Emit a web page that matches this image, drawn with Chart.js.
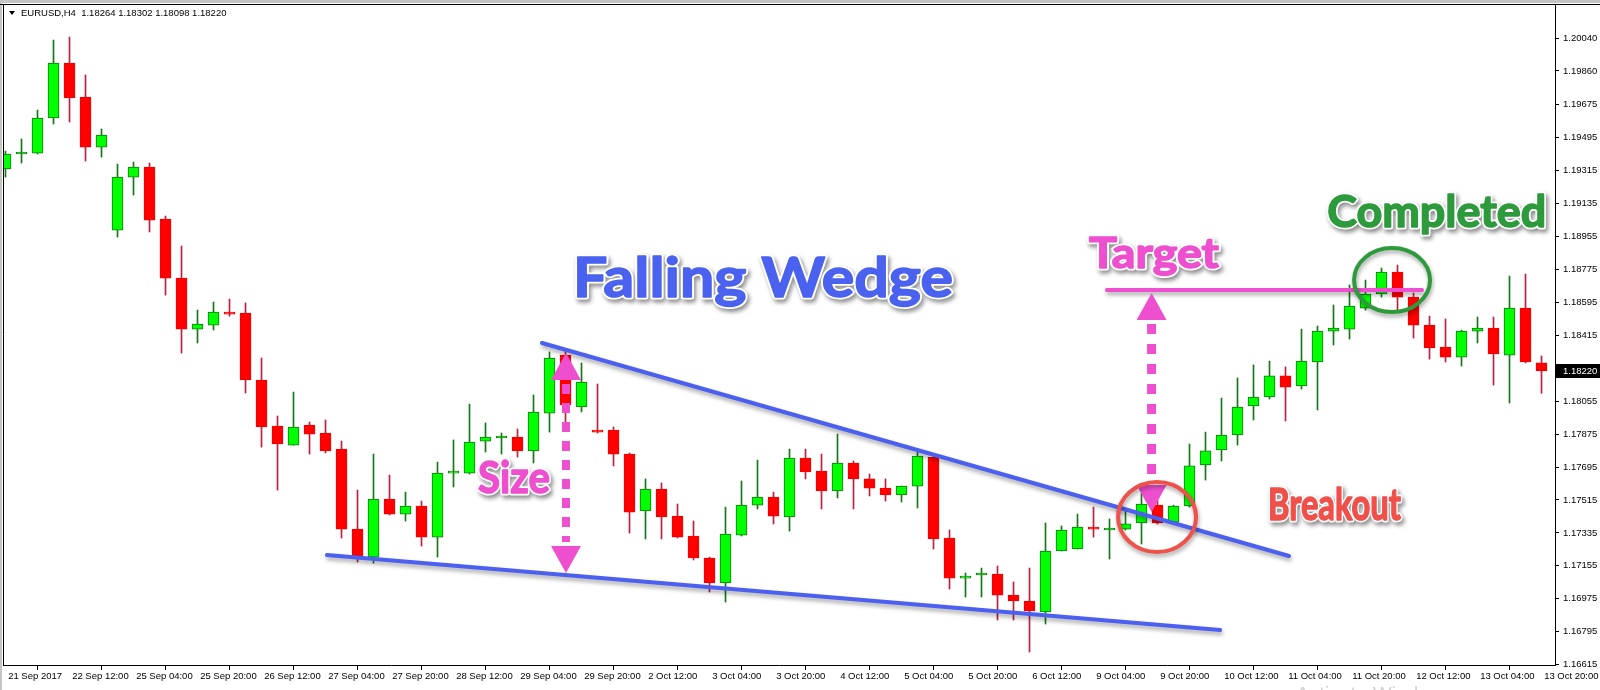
<!DOCTYPE html>
<html>
<head>
<meta charset="utf-8">
<title>EURUSD H4 - Falling Wedge</title>
<script src="https://cdn.jsdelivr.net/npm/chart.js@4.4.1/dist/chart.umd.min.js"></script>
<style>
  html, body { margin: 0; padding: 0; background: #fff; }
  #wrap { width: 1600px; height: 690px; }
</style>
</head>
<body>
<div id="wrap"><canvas id="chart" width="1600" height="690"></canvas></div>
<script>
const symbolName = 'EURUSD,H4';

// H4 candles, 21 Sep 2017 20:00 -> 13 Oct 2017 20:00
const opens = [
  1.19324, 1.19406, 1.19411, 1.19603, 1.19903, 1.19717, 1.19444, 1.18990, 1.19280, 1.19335,
  1.19051, 1.18728, 1.18449, 1.18471, 1.18542, 1.18537, 1.18171, 1.17919, 1.17815, 1.17925,
  1.17881, 1.17793, 1.17356, 1.17203, 1.17520, 1.17438, 1.17482, 1.17312, 1.17662, 1.17662,
  1.17837, 1.17854, 1.17859, 1.17783, 1.17990, 1.18307, 1.18023, 1.17897, 1.17897, 1.17766,
  1.17455, 1.17575, 1.17427, 1.17318, 1.17198, 1.17061, 1.17323, 1.17487, 1.17531, 1.17422,
  1.17744, 1.17673, 1.17564, 1.17717, 1.17630, 1.17580, 1.17542, 1.17591, 1.17750, 1.17307,
  1.17088, 1.17105, 1.17110, 1.16995, 1.16963, 1.16903, 1.17236, 1.17247, 1.17367, 1.17351,
  1.17356, 1.17389, 1.17487, 1.17394, 1.17482, 1.17706, 1.17788, 1.17870, 1.18029, 1.18078,
  1.18193, 1.18138, 1.18269, 1.18438, 1.18449, 1.18564, 1.18641, 1.18761, 1.18624, 1.18471,
  1.18351, 1.18296, 1.18438, 1.18455, 1.18307, 1.18564, 1.18264
];
const highs = [
  1.19422, 1.19488, 1.19646, 1.20029, 1.20045, 1.19838, 1.19543, 1.19351, 1.19362, 1.19357,
  1.19067, 1.18903, 1.18553, 1.18597, 1.18613, 1.18592, 1.18291, 1.17974, 1.18105, 1.17941,
  1.17952, 1.17837, 1.17569, 1.17766, 1.17651, 1.17558, 1.17509, 1.17722, 1.17843, 1.18039,
  1.17936, 1.17881, 1.17903, 1.18089, 1.18324, 1.18335, 1.18264, 1.18149, 1.17914, 1.17772,
  1.17630, 1.17608, 1.17493, 1.17400, 1.17203, 1.17476, 1.17619, 1.17733, 1.17558, 1.17793,
  1.17793, 1.17766, 1.17875, 1.17728, 1.17657, 1.17630, 1.17591, 1.17777, 1.17761, 1.17351,
  1.17116, 1.17143, 1.17154, 1.17067, 1.17143, 1.17389, 1.17373, 1.17438, 1.17476, 1.17411,
  1.17466, 1.17553, 1.17515, 1.17487, 1.17821, 1.17886, 1.18072, 1.18182, 1.18253, 1.18274,
  1.18242, 1.18449, 1.18466, 1.18581, 1.18690, 1.18717, 1.18783, 1.18799, 1.18646, 1.18520,
  1.18504, 1.18444, 1.18515, 1.18515, 1.18739, 1.18750, 1.18302
];
const lows = [
  1.19280, 1.19357, 1.19406, 1.19570, 1.19581, 1.19368, 1.19389, 1.18952, 1.19182, 1.18980,
  1.18635, 1.18318, 1.18373, 1.18444, 1.18520, 1.18100, 1.17804, 1.17569, 1.17815, 1.17766,
  1.17772, 1.17307, 1.17176, 1.17170, 1.17433, 1.17400, 1.17263, 1.17203, 1.17586, 1.17657,
  1.17777, 1.17766, 1.17750, 1.17717, 1.17886, 1.17914, 1.17996, 1.17881, 1.17701, 1.17334,
  1.17302, 1.17302, 1.17307, 1.17187, 1.17012, 1.16957, 1.17318, 1.17466, 1.17384, 1.17345,
  1.17630, 1.17466, 1.17526, 1.17466, 1.17537, 1.17509, 1.17504, 1.17471, 1.17247, 1.17028,
  1.16985, 1.16985, 1.16859, 1.16859, 1.16684, 1.16837, 1.17236, 1.17247, 1.17312, 1.17192,
  1.17351, 1.17274, 1.17384, 1.17389, 1.17476, 1.17624, 1.17728, 1.17815, 1.17952, 1.18067,
  1.17947, 1.18121, 1.18007, 1.18362, 1.18395, 1.18553, 1.18624, 1.18553, 1.18400, 1.18285,
  1.18269, 1.18247, 1.18373, 1.18143, 1.18045, 1.18264, 1.18098
];
const closes = [
  1.19406, 1.19417, 1.19603, 1.19903, 1.19712, 1.19444, 1.19510, 1.19280, 1.19335, 1.19045,
  1.18728, 1.18449, 1.18477, 1.18542, 1.18531, 1.18171, 1.17914, 1.17821, 1.17914, 1.17875,
  1.17783, 1.17356, 1.17203, 1.17520, 1.17438, 1.17482, 1.17312, 1.17662, 1.17668, 1.17832,
  1.17859, 1.17859, 1.17783, 1.17996, 1.18291, 1.18034, 1.18160, 1.17886, 1.17766, 1.17449,
  1.17575, 1.17422, 1.17312, 1.17198, 1.17061, 1.17329, 1.17487, 1.17531, 1.17427, 1.17744,
  1.17668, 1.17564, 1.17717, 1.17630, 1.17580, 1.17542, 1.17591, 1.17755, 1.17302, 1.17088,
  1.17099, 1.17110, 1.16995, 1.16963, 1.16908, 1.17236, 1.17351, 1.17367, 1.17356, 1.17356,
  1.17384, 1.17493, 1.17389, 1.17482, 1.17701, 1.17783, 1.17870, 1.18023, 1.18078, 1.18193,
  1.18132, 1.18274, 1.18438, 1.18455, 1.18575, 1.18641, 1.18761, 1.18624, 1.18471, 1.18346,
  1.18296, 1.18438, 1.18455, 1.18313, 1.18564, 1.18269, 1.18220
];

// one time label every 4 bars
const timeLabelStep = 4;
const timeLabels = [
  '21 Sep 2017', '22 Sep 12:00', '25 Sep 04:00', '25 Sep 20:00', '26 Sep 12:00',
  '27 Sep 04:00', '27 Sep 20:00', '28 Sep 12:00', '29 Sep 04:00', '29 Sep 20:00',
  '2 Oct 12:00', '3 Oct 04:00', '3 Oct 20:00', '4 Oct 12:00', '5 Oct 04:00',
  '5 Oct 20:00', '6 Oct 12:00', '9 Oct 04:00', '9 Oct 20:00', '10 Oct 12:00',
  '11 Oct 04:00', '11 Oct 20:00', '12 Oct 12:00', '13 Oct 04:00', '13 Oct 20:00'
];

const priceTicks = [
  1.20040, 1.19860, 1.19675, 1.19495, 1.19315, 1.19135, 1.18955, 1.18775, 1.18595, 1.18415,
  1.18055, 1.17875, 1.17695, 1.17515, 1.17335, 1.17155, 1.16975, 1.16795, 1.16615
];
const priceMin = 1.16613;
const priceMax = 1.20226;

// annotations, in [bar index, price]
const wedgeUpper = [[33.53, 1.18373], [80.22, 1.17209]];
const wedgeLower = [[20.09, 1.17214], [75.91, 1.16804]];
const targetLine = [[68.84, 1.18663], [88.53, 1.18663]];
const sizeArrow = [35.03, 1.18318, 1.17116];     // index, top tip, bottom tip
const targetArrow = [71.63, 1.18646, 1.17449];
const breakoutCircle = [71.97, 1.17422];
const completedCircle = [86.66, 1.18717];
const noteTexts = ['Falling Wedge', 'Size', 'Target', 'Breakout', 'Completed'];
const noteAnchors = [[47.34, 1.18624], [31.78, 1.17553], [71.78, 1.18783], [83.06, 1.17405], [89.45, 1.19007]];

// styles
const UP_BODY = '#00ff00', UP_EDGE = '#0a7d0a', UP_WICK = '#147814';
const DN_BODY = '#ff0000', DN_EDGE = '#f00000', DN_WICK = '#c01e3c';
const BLUE = '#4b5ff0', PINK = '#ee4fcf', RED = '#ee524b', GREEN = '#2d9a3b';
const noteStyles = [
  { color: '#4a62ef', cap: 40, width: 380 },
  { color: PINK, cap: 32, width: 72 },
  { color: PINK, cap: 30, width: 130 },
  { color: '#f0504a', cap: 31, width: 133 },
  { color: GREEN, cap: 32, width: 219 }
];
const axisFont = { family: 'Liberation Sans, Arial, sans-serif', size: 9.5 };

const barIdx = opens.map((_, i) => i);
const isUp = barIdx.map((i) => closes[i] >= opens[i]);

const wedgeNotes = {
  id: 'wedgeNotes',
  beforeDraw(chart) {
    const c = chart.ctx;
    c.save();
    c.fillStyle = '#fff';
    c.fillRect(0, 0, chart.width, chart.height);
    c.fillStyle = '#c4c4c4';
    c.fillRect(0, 0, chart.width, 3);
    c.fillRect(0, 0, 2, chart.height);
    c.restore();
  },
  afterDatasetsDraw(chart) {
    const c = chart.ctx;
    const xs = chart.scales.x, ys = chart.scales.y;
    const px = (v) => xs.getPixelForValue(v);
    const py = (v) => ys.getPixelForValue(v);

    function shadowed(fn) {
      c.save();
      c.shadowColor = 'rgba(0,0,0,0.35)';
      c.shadowBlur = 4;
      c.shadowOffsetX = 1;
      c.shadowOffsetY = 3;
      fn();
      c.restore();
    }

    function line(pts, color, w) {
      shadowed(() => {
        c.strokeStyle = color;
        c.lineWidth = w;
        c.lineCap = 'round';
        c.beginPath();
        c.moveTo(px(pts[0][0]), py(pts[0][1]));
        c.lineTo(px(pts[1][0]), py(pts[1][1]));
        c.stroke();
      });
    }

    function ring(pt, rx, ry, color) {
      shadowed(() => {
        c.strokeStyle = color;
        c.lineWidth = 4;
        c.beginPath();
        c.ellipse(px(pt[0]), py(pt[1]), rx, ry, 0, 0, Math.PI * 2);
        c.stroke();
      });
    }

    function dottedArrow(a, color, dotW, dash) {
      const x = px(a[0]), yt = py(a[1]), yb = py(a[2]);
      const head = 27, half = 15;
      c.save();
      c.fillStyle = color;
      c.beginPath();
      c.moveTo(x, yt); c.lineTo(x - half, yt + head); c.lineTo(x + half, yt + head);
      c.closePath(); c.fill();
      c.beginPath();
      c.moveTo(x, yb); c.lineTo(x - half, yb - head); c.lineTo(x + half, yb - head);
      c.closePath(); c.fill();
      c.strokeStyle = color;
      c.lineWidth = dotW;
      c.setLineDash(dash);
      c.beginPath();
      c.moveTo(x, yt + head + 4);
      c.lineTo(x, yb - head - 4);
      c.stroke();
      c.restore();
    }

    function note(text, anchor, st) {
      const size = st.cap / 0.72;
      c.save();
      c.font = `bold ${size}px Lato, "Open Sans", sans-serif`;
      const w = c.measureText(text).width;
      c.translate(px(anchor[0]), py(anchor[1]));
      c.scale(st.width / w, 1);
      c.textAlign = 'center';
      c.textBaseline = 'alphabetic';
      c.lineJoin = 'round';
      c.shadowColor = 'rgba(0,0,0,0.45)';
      c.shadowBlur = 4;
      c.shadowOffsetX = 2;
      c.shadowOffsetY = 3;
      c.strokeStyle = '#fff';
      c.lineWidth = 5;
      c.strokeText(text, 0, 0);
      c.shadowColor = 'transparent';
      c.fillStyle = st.color;
      c.fillText(text, 0, 0);
      c.strokeStyle = st.color;
      c.lineWidth = 1.5;
      c.strokeText(text, 0, 0);
      c.restore();
    }

    line(wedgeUpper, BLUE, 4);
    line(wedgeLower, BLUE, 4);
    line(targetLine, PINK, 4);
    dottedArrow(sizeArrow, PINK, 8, [10, 9]);
    dottedArrow(targetArrow, PINK, 9, [10, 10]);
    ring(breakoutCircle, 39, 35, RED);
    ring(completedCircle, 38, 32, GREEN);
    noteTexts.forEach((t, k) => note(t, noteAnchors[k], noteStyles[k]));
  },
  afterDraw(chart) {
    const c = chart.ctx;
    const a = chart.chartArea;
    const last = closes.length - 1;
    c.save();
    // frame
    c.strokeStyle = '#000';
    c.lineWidth = 1;
    c.beginPath();
    c.moveTo(0, a.top + 0.5); c.lineTo(chart.width, a.top + 0.5);
    c.moveTo(a.left + 0.5, a.top); c.lineTo(a.left + 0.5, a.bottom);
    c.stroke();

    // symbol line
    c.fillStyle = '#000';
    c.beginPath();
    c.moveTo(9, 11); c.lineTo(15, 11); c.lineTo(12, 15);
    c.closePath(); c.fill();
    c.font = `9.5px ${axisFont.family}`;
    c.textBaseline = 'alphabetic';
    c.fillText(`${symbolName}  ${opens[last].toFixed(5)} ${highs[last].toFixed(5)} ${lows[last].toFixed(5)} ${closes[last].toFixed(5)}`, 21, 16);

    // current price tag
    const y = Math.round(chart.scales.y.getPixelForValue(closes[last]));
    c.fillStyle = '#000';
    c.fillRect(a.right + 1, y - 7, chart.width - a.right - 1, 14);
    c.fillStyle = '#fff';
    c.textBaseline = 'middle';
    c.fillText(closes[last].toFixed(5), a.right + 8, y + 0.5);

    // watermark left by the screenshot
    c.fillStyle = '#d2d2d2';
    c.font = '20px "Liberation Sans", Arial, sans-serif';
    c.textBaseline = 'alphabetic';
    c.fillText('Activate Windows', 1296, 701);
    c.restore();
  }
};

new Chart(document.getElementById('chart'), {
  type: 'bar',
  data: {
    datasets: [
      {
        label: 'Body',
        data: barIdx.map((i) => ({ x: i, y: [opens[i], closes[i]] })),
        grouped: false,
        barThickness: 11,
        minBarLength: 2,
        backgroundColor: isUp.map((u) => (u ? UP_BODY : DN_BODY)),
        borderColor: isUp.map((u) => (u ? UP_EDGE : DN_EDGE)),
        borderWidth: 1,
        borderSkipped: false,
        order: 1
      },
      {
        label: 'Wick',
        data: barIdx.map((i) => ({ x: i, y: [lows[i], highs[i]] })),
        grouped: false,
        barThickness: 1,
        backgroundColor: isUp.map((u) => (u ? UP_WICK : DN_WICK)),
        borderWidth: 0,
        order: 2
      }
    ]
  },
  options: {
    responsive: false,
    animation: false,
    layout: { padding: { left: 3, top: 4, right: 0, bottom: 0 } },
    plugins: { legend: { display: false }, tooltip: { enabled: false } },
    scales: {
      x: {
        type: 'linear',
        min: -0.15625,
        max: 96.84375,
        offset: false,
        afterBuildTicks: (s) => { s.ticks = timeLabels.map((_, k) => ({ value: k * timeLabelStep })); },
        afterFit: (s) => { s.height = 25; s.paddingLeft = 0; s.paddingRight = 0; },
        ticks: {
          autoSkip: false,
          maxRotation: 0,
          align: 'start',
          padding: 1,
          color: '#000',
          font: axisFont,
          callback: (v) => ' ' + timeLabels[Math.round(v / timeLabelStep)]
        },
        grid: { drawOnChartArea: false, tickLength: 5, color: '#000' },
        border: { color: '#000' }
      },
      y: {
        type: 'linear',
        position: 'right',
        min: priceMin,
        max: priceMax,
        afterBuildTicks: (s) => { s.ticks = priceTicks.map((v) => ({ value: v })); },
        afterFit: (s) => { s.width = 45; s.paddingTop = 0; s.paddingBottom = 0; },
        ticks: { padding: 4, color: '#000', font: axisFont, callback: (v) => v.toFixed(5) },
        grid: { drawOnChartArea: false, tickLength: 4, color: '#000' },
        border: { color: '#000' }
      }
    }
  },
  plugins: [wedgeNotes]
});
</script>
</body>
</html>
